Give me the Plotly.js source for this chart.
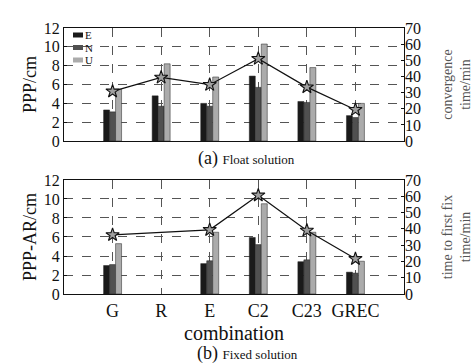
<!DOCTYPE html>
<html>
<head>
<meta charset="utf-8">
<script src="https://cdn.plot.ly/plotly-3.0.1.min.js"></script>
<style>html,body{margin:0;padding:0;background:#fff;}#chart{width:474px;height:364px;}</style>
</head>
<body>
<div id="chart"></div>
<script>
// Data
var categories = ['G', 'R', 'E', 'C2', 'C23', 'GREC'];
var floatE = [3.3, 4.8, 4.0, 6.9, 4.2, 2.7];
var floatN = [3.1, 3.7, 3.7, 5.7, 4.1, 2.5];
var floatU = [5.5, 8.2, 6.8, 10.3, 7.8, 4.0];
var floatTime = [30.8, 39.4, 34.9, 51.0, 33.4, 19.4];
var fixedE = [3.0, null, 3.2, 5.95, 3.4, 2.3];
var fixedN = [3.1, null, 3.5, 5.2, 3.6, 2.2];
var fixedU = [5.3, null, 6.5, 9.5, 6.5, 3.45];
var fixedTime = [36.3, null, 39.4, 60.6, 39.0, 21.6];
var seriesNames = ['E', 'N', 'U'];
var leftTicks = [0, 2, 4, 6, 8, 10, 12];
var rightTicks = [0, 10, 20, 30, 40, 50, 60, 70];

var FONT = "'Liberation Serif', 'Times New Roman', serif";
var colors = ['#1a1a1a', '#505050', '#ababab'];

function bar(y, i, xa, ya) {
  return {
    type: 'bar', x: categories, y: y, name: seriesNames[i], xaxis: xa, yaxis: ya,
    marker: {color: colors[i], line: {color: '#222', width: 0.5}},
    showlegend: false, hoverinfo: 'none'
  };
}
function line(y, xa, ya) {
  return {
    type: 'scatter', mode: 'lines+markers', x: categories, y: y, xaxis: xa, yaxis: ya,
    connectgaps: true, showlegend: false, hoverinfo: 'none',
    line: {color: '#111', width: 1.2},
    marker: {symbol: 'star', size: 10, color: '#a0a0a0', line: {color: '#111', width: 1.1}}
  };
}

var data = [
  bar(floatE, 0, 'x', 'y'), bar(floatN, 1, 'x', 'y'), bar(floatU, 2, 'x', 'y'),
  bar(fixedE, 0, 'x2', 'y2'), bar(fixedN, 1, 'x2', 'y2'), bar(fixedU, 2, 'x2', 'y2'),
  line(floatTime, 'x', 'y3'), line(fixedTime, 'x2', 'y4')
];

var xBase = {
  type: 'category', range: [-1, 6], showline: true, mirror: true, linecolor: '#111', linewidth: 1,
  showgrid: true, gridcolor: '#555', griddash: 'dash', gridwidth: 1, zeroline: false,
  ticks: '', tickfont: {family: FONT, size: 18, color: '#111'}, fixedrange: true
};
var yLeftBase = {
  range: [0, 12], tickvals: leftTicks, showline: true, mirror: true, linecolor: '#111', linewidth: 1,
  showgrid: true, gridcolor: '#555', griddash: 'dash', gridwidth: 1, zeroline: false,
  ticks: 'inside', ticklen: 3, tickcolor: '#111', tickfont: {family: FONT, size: 16, color: '#111'},
  fixedrange: true
};
var yRightBase = {
  range: [0, 70], tickvals: rightTicks, side: 'right', showgrid: false, zeroline: false,
  ticks: 'inside', ticklen: 3, tickcolor: '#111', tickfont: {family: FONT, size: 16, color: '#111'},
  fixedrange: true
};

var layout = {
  width: 474, height: 364,
  margin: {l: 64, r: 70, t: 28, b: 70},
  paper_bgcolor: '#fff', plot_bgcolor: '#fff',
  barmode: 'group', bargap: 0.63, bargroupgap: 0,
  font: {family: FONT, color: '#111'},
  xaxis: Object.assign({}, xBase, {anchor: 'y', showticklabels: false}),
  xaxis2: Object.assign({}, xBase, {anchor: 'y2',
    title: {text: 'combination', font: {family: FONT, size: 20, color: '#111'}, standoff: 6}}),
  yaxis: Object.assign({}, yLeftBase, {domain: [0.575, 1], anchor: 'x',
    title: {text: 'PPP/cm', font: {family: FONT, size: 18, color: '#111'}, standoff: 2}}),
  yaxis2: Object.assign({}, yLeftBase, {domain: [0, 0.4286], anchor: 'x2',
    title: {text: 'PPP-AR/cm', font: {family: FONT, size: 18, color: '#111'}, standoff: 2}}),
  yaxis3: Object.assign({}, yRightBase, {overlaying: 'y', anchor: 'x',
    title: {text: 'convergence<br>time/min', font: {family: FONT, size: 14, color: '#555'}, standoff: 22}}),
  yaxis4: Object.assign({}, yRightBase, {overlaying: 'y2', anchor: 'x2',
    title: {text: 'time to first fix<br>time/min', font: {family: FONT, size: 14, color: '#555'}, standoff: 22}}),
  shapes: [],
  annotations: [
    {xref: 'paper', yref: 'paper', x: 0.538, y: 0.511, showarrow: false, xanchor: 'center', yanchor: 'middle',
     text: '(a) <span style="font-size:13px">Float solution</span>', font: {family: FONT, size: 18, color: '#111'}},
    {xref: 'paper', yref: 'paper', x: 0.541, y: -0.222, showarrow: false, xanchor: 'center', yanchor: 'middle',
     text: '(b) <span style="font-size:13px">Fixed solution</span>', font: {family: FONT, size: 18, color: '#111'}}
  ]
};

// manual compact legend (inside top panel, upper-left)
var legendRows = [35, 47.5, 60];
for (var i = 0; i < seriesNames.length; i++) {
  var py = legendRows[i];
  layout.shapes.push({type: 'rect', xref: 'paper', yref: 'paper',
    x0: (73 - 64) / 340, x1: (83 - 64) / 340,
    y0: (294 - (py + 2.5)) / 266, y1: (294 - (py - 2.5)) / 266,
    fillcolor: colors[i], line: {width: 0}});
  layout.annotations.push({xref: 'paper', yref: 'paper', x: (84 - 64) / 340, y: (294 - py) / 266,
    xanchor: 'left', yanchor: 'middle', showarrow: false, text: seriesNames[i], borderpad: 0,
    font: {family: FONT, size: 11, color: '#111'}});
}

Plotly.newPlot('chart', data, layout, {staticPlot: true, displayModeBar: false});
</script>
</body>
</html>
